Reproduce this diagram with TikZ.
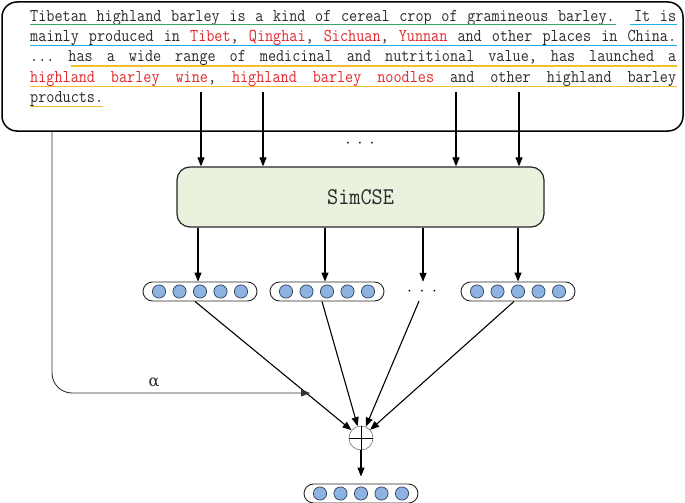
\documentclass[tikz,border=0pt]{standalone}
\usepackage{graphicx}
\usepackage{fontspec}
\newfontfamily\gfont{DejaVu Serif}
\usetikzlibrary{arrows.meta,calc}
\definecolor{txtc}{HTML}{2A2A2A}
\definecolor{redw}{HTML}{E3262B}
\definecolor{ugreen}{HTML}{3BA86A}
\definecolor{ublue}{HTML}{1AAEE6}
\definecolor{uorange}{HTML}{F5BE2E}
\definecolor{simfill}{HTML}{EAF1DD}
\definecolor{dotfill}{HTML}{8DB3E3}
\definecolor{dotdraw}{HTML}{2F3D55}
\newcommand{\rw}[1]{\textcolor{redw}{#1}}
\newcommand{\jline}[1]{\scalebox{0.875}[1]{\hbox to 738.3pt{\frenchspacing\spaceskip=\fontdimen2\font plus 1fil\relax #1}}}
\newcommand{\vecnode}[3]{%
  \node[vbox] (#1) at (#2,#3) {};
  \foreach \k in {-2,...,2} \draw[vcirc] ($(#1.center)+(\k*20.5,0)$) circle (6.6pt);
}
\begin{document}
\begin{tikzpicture}[x=1pt,y=-1pt,
  arr/.style={-{Triangle[length=9pt,width=7pt]}, line width=1.1pt, black},
  linetxt/.style={anchor=base west, inner sep=0, font=\fontsize{18}{20}\selectfont\ttfamily, text=txtc},
  ul/.style={line width=1.6pt},
  vbox/.style={draw=black!85, line width=0.9pt, rounded corners=9.5pt, minimum width=114pt, minimum height=19pt, inner sep=0},
  vcirc/.style={draw=dotdraw, line width=0.7pt, fill=dotfill},
  dotsnode/.style={inner sep=0, minimum height=19pt, font=\fontsize{16}{16}\selectfont}
]
\useasboundingbox (0,0) rectangle (685,503);

% text box
\node[draw, line width=1.5pt, rounded corners=15pt, minimum width=681pt, minimum height=129pt, inner sep=0] (tb) at (342.5,66.5) {};

\node[linetxt] (l1) at (30,21.5) {\jline{Tibetan highland barley is a kind of cereal crop of gramineous barley. \ It is}};
\node[linetxt] (l2) at (30,41.5) {\jline{mainly produced in \rw{Tibet}, \rw{Qinghai}, \rw{Sichuan}, \rw{Yunnan} and other places in China.}};
\node[linetxt] (l3) at (30,62) {\jline{... has a wide range of medicinal and nutritional value, has launched a}};
\node[linetxt] (l4) at (30,82) {\jline{\rw{highland barley wine}, \rw{highland barley noodles} and other highland barley}};
\node[linetxt] (l5) at (30,102) {\scalebox{0.875}[1]{products.}};

% underlines
\draw[ul, ugreen] (30,24.5) -- (616,24.5);
\draw[ul, ublue] (630,24.5) -- (677,24.5);
\draw[ul, ublue] (30,45.5) -- (677,45.5);
\draw[ul, uorange] (71,66) -- (677,66);
\draw[ul, uorange] (30,86.5) -- (677,86.5);
\draw[ul, uorange] (30,106.5) -- (103,106.5);

% SimCSE
\node[draw=black!85, line width=1.2pt, fill=simfill, rounded corners=13pt, minimum width=367pt, minimum height=60pt, inner sep=0, font=\fontsize{24}{24}\selectfont\ttfamily, text=txtc] (sim) at (360.5,197) {\scalebox{0.9}[1]{SimCSE}};

% arrows text -> SimCSE
\foreach \i/\x in {1/201,2/263,3/456,4/519}{
  \coordinate (t\i) at (\x,92);
  \draw[arr] (t\i) -- (t\i |- sim.north);
}
\node[dotsnode] (dtop) at (360,144) {\makebox[0pt]{$\cdot$}\hspace{12pt}\makebox[0pt]{$\cdot$}\hspace{12pt}\makebox[0pt]{$\cdot$}};

% vectors
\vecnode{v1}{200}{291.5}
\vecnode{v2}{327}{291.5}
\vecnode{v4}{518}{291.5}
\node[dotsnode] (dmid) at (422,291.5) {\makebox[0pt]{$\cdot$}\hspace{12.5pt}\makebox[0pt]{$\cdot$}\hspace{12.5pt}\makebox[0pt]{$\cdot$}};

\draw[arr] ([xshift=-2pt]v1.north |- sim.south) -- ([xshift=-2pt]v1.north);
\draw[arr] ([xshift=-2pt]v2.north |- sim.south) -- ([xshift=-2pt]v2.north);
\draw[arr] ([xshift=1pt]dmid.north |- sim.south) -- ([xshift=1pt]dmid.north);
\draw[arr] (v4.north |- sim.south) -- (v4.north);

% plus
\node[circle, draw=black!55, line width=0.6pt, minimum size=24pt, inner sep=0] (plus) at (361,438) {};
\draw[line width=0.9pt] (plus.north) -- (plus.south) (plus.west) -- (plus.east);

\draw[arr] ([xshift=-5pt]v1.south) -- (plus);
\draw[arr] ([xshift=-5pt]v2.south) -- (plus);
\draw[arr] ([xshift=-3pt]dmid.south) -- (plus);
\draw[arr] ([xshift=-4pt]v4.south) -- (plus);

% alpha path
\coordinate (ls) at (52,0);
\coordinate (aend) at (310,393);
\draw[line width=0.9pt, black!80, -{Triangle[length=9pt,width=7pt]}, rounded corners=20pt] (tb.south -| ls) -- (ls |- aend) -- (aend);
\node[inner sep=0, font=\fontsize{16}{16}\selectfont\gfont, text=txtc] (alpha) at (154,382) {α};

% final vector
\vecnode{vf}{361}{493.5}
\draw[arr, shorten >=7pt] (plus.south) -- (vf.north);
\end{tikzpicture}
\end{document}
